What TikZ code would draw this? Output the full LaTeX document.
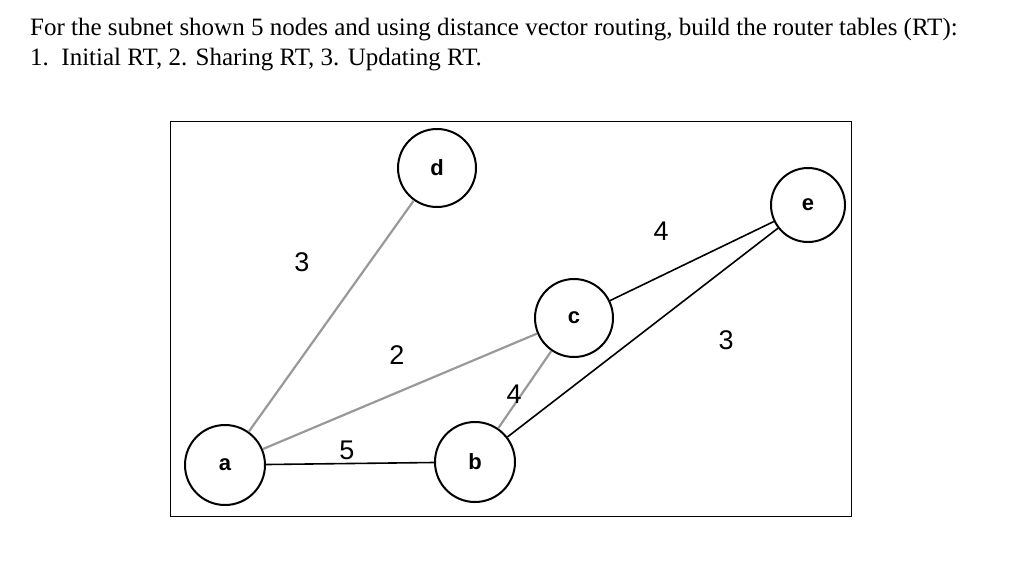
\documentclass[tikz,border=0pt]{standalone}
\usepackage{fontspec}
\setmainfont{Liberation Serif}
\newfontfamily\sans{Liberation Sans}
\begin{document}
\begin{tikzpicture}[x=1pt,y=-1pt,
  nd/.style={circle,draw=black,line width=2pt,minimum size=80pt,inner sep=0pt,font=\sans\bfseries\fontsize{22}{22}\selectfont},
  lb/.style={font=\sans\fontsize{27}{27}\selectfont},
  g/.style={draw=gray!80,line width=2.2pt},
  k/.style={draw=black,line width=1.6pt}]
\useasboundingbox (0,0) rectangle (1024,565);
\node[anchor=west,font=\fontsize{25}{25}\selectfont,inner sep=0pt] (t1) at (30,30) {For the subnet shown 5 nodes and using distance vector routing, build the router tables (RT):};
\node[anchor=west,font=\fontsize{25}{25}\selectfont,inner sep=0pt] (t2) at (30,60) {1.\ \ Initial RT, 2. Sharing RT, 3. Updating RT.};
\draw[line width=1pt] (170,121) rectangle (851,516);
\node[nd] (a) at (225,465) {a};
\node[nd,minimum size=78pt] (d) at (437,168) {d};
\node[nd,minimum size=74pt] (e) at (808,205) {e};
\node[nd,minimum size=78pt] (c) at (574,318) {c};
\node[nd] (b) at (475,462) {b};
\draw[g] (a) -- (d);
\draw[g] (a) -- (c);
\draw[k] (a) -- (b);
\draw[g] (b) -- (c);
\draw[k] (b) -- (e);
\draw[k] (c) -- (e);
\node[lb] (l1) at (302,262) {3};
\node[lb] (l2) at (397,355) {2};
\node[lb] (l3) at (347,450) {5};
\node[lb] (l4) at (514,394) {4};
\node[lb] (l5) at (661,231) {4};
\node[lb] (l6) at (726,340) {3};
\end{tikzpicture}
\end{document}
